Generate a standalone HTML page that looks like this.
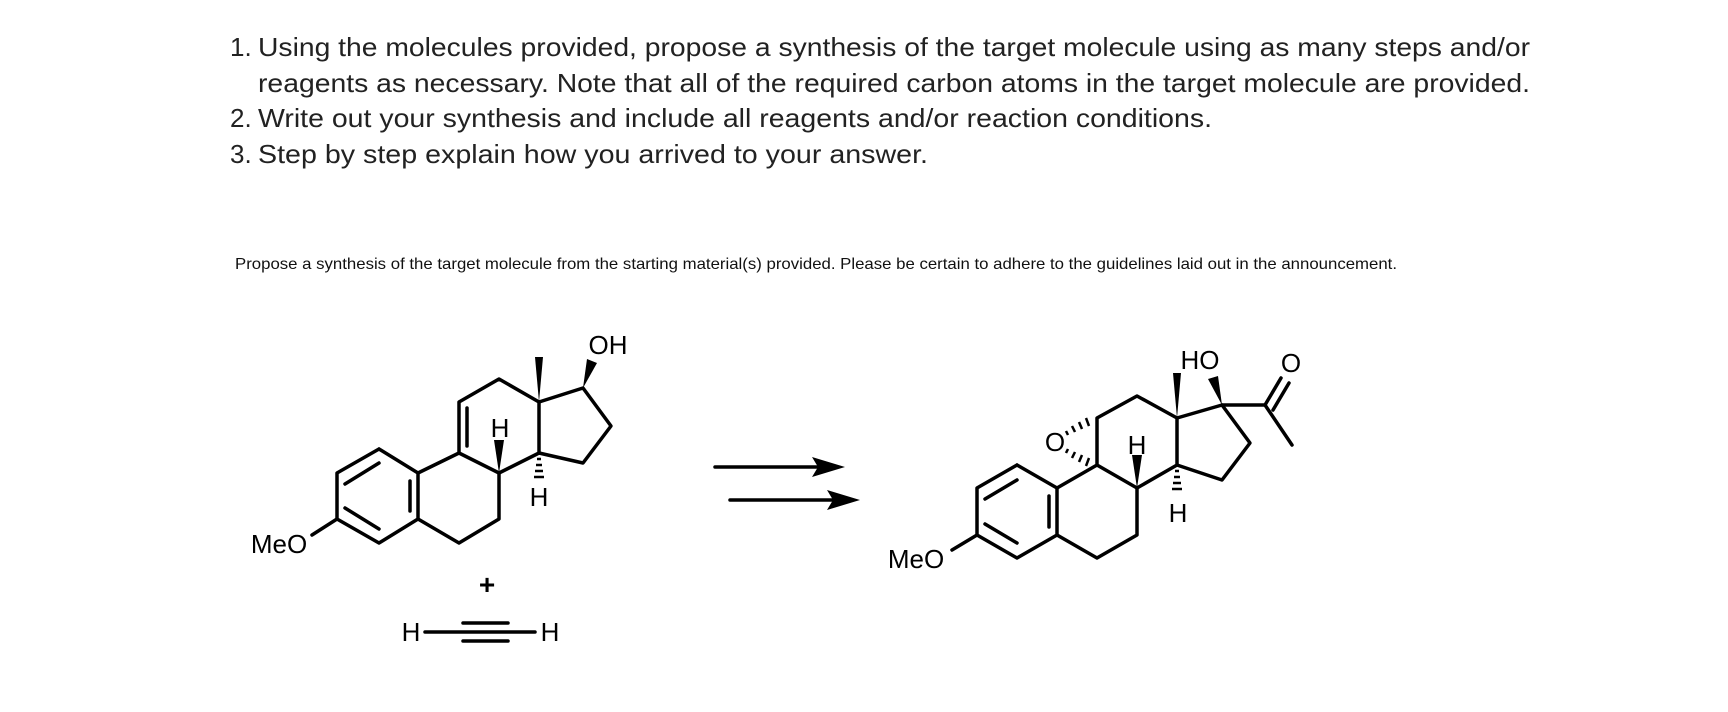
<!DOCTYPE html>
<html><head><meta charset="utf-8"><style>
html,body{margin:0;padding:0;background:#fff;}
svg{display:block}
</style></head><body>
<svg width="1728" height="712" viewBox="0 0 1728 712" xmlns="http://www.w3.org/2000/svg">
<g font-family="Liberation Sans, sans-serif" fill="#222">
<text x="230" y="56" font-size="26">1.</text>
<text x="258" y="56" font-size="26" textLength="1272" lengthAdjust="spacingAndGlyphs">Using the molecules provided, propose a synthesis of the target molecule using as many steps and/or</text>
<text x="258" y="92" font-size="26" textLength="1272" lengthAdjust="spacingAndGlyphs">reagents as necessary. Note that all of the required carbon atoms in the target molecule are provided.</text>
<text x="230" y="127" font-size="26">2.</text>
<text x="258" y="127" font-size="26" textLength="954" lengthAdjust="spacingAndGlyphs">Write out your synthesis and include all reagents and/or reaction conditions.</text>
<text x="230" y="163" font-size="26">3.</text>
<text x="258" y="163" font-size="26" textLength="670" lengthAdjust="spacingAndGlyphs">Step by step explain how you arrived to your answer.</text>
<text x="235" y="269" font-size="16" fill="#111" textLength="1162" lengthAdjust="spacingAndGlyphs">Propose a synthesis of the target molecule from the starting material(s) provided. Please be certain to adhere to the guidelines laid out in the announcement.</text>
</g>
<g stroke="#000" stroke-width="3.5" fill="none" stroke-linejoin="round" stroke-linecap="round">
<polyline points="379,449 337,473 337,519 379,543 418,519 418,473 379,449"/>
<line x1="345" y1="484" x2="379" y2="463"/>
<line x1="410" y1="481" x2="410" y2="511"/>
<line x1="345" y1="508" x2="379" y2="529"/>
<line x1="337" y1="519" x2="312" y2="535"/>
<polyline points="418,473 459,453 459,402 499,379 539,402 539,453 499,473 459,453"/>
<polyline points="418,519 459,543 499,519 499,473"/>
<line x1="467" y1="408" x2="467" y2="446"/>
<polyline points="539,402 583,388 611,426 583,463 539,453"/>
<line x1="425" y1="632" x2="535" y2="632"/>
<line x1="463" y1="623" x2="508" y2="623"/>
<line x1="463" y1="641" x2="508" y2="641"/>
<polyline points="1017,465 977,488 977,535 1017,558 1057,535 1057,488 1017,465"/>
<line x1="985" y1="499" x2="1017" y2="480"/>
<line x1="1049" y1="496" x2="1049" y2="527"/>
<line x1="985" y1="524" x2="1017" y2="543"/>
<line x1="977" y1="535" x2="952" y2="550"/>
<polyline points="1057,488 1097,465 1097,418 1137,396 1177,418 1177,465 1137,488 1097,465"/>
<polyline points="1057,535 1097,558 1137,535 1137,488"/>
<polyline points="1177,418 1222,405 1250,443 1222,480 1177,465"/>
<line x1="1222" y1="405" x2="1265" y2="405"/>
<line x1="1265" y1="405" x2="1292" y2="445"/>
<line x1="1265" y1="405" x2="1281" y2="378"/>
<line x1="1273" y1="410" x2="1289" y2="383"/>
<line x1="715" y1="467" x2="820" y2="467"/>
<line x1="730" y1="500" x2="835" y2="500"/>
</g>
<g fill="#000">
<polygon points="845,467 812,457 818,467 812,477"/>
<polygon points="860,500 827,490 833,500 827,510"/>
<polygon points="539,402 535,357 543,357"/>
<polygon points="583,388 587,359 597,363"/>
<polygon points="499,473 494,440 504,440"/>
<polygon points="1177,418 1173,373 1181,373"/>
<polygon points="1222,405 1208,379 1218,376"/>
<polygon points="1137,488 1132,455 1142,455"/>
</g>
<g stroke="#000" stroke-width="2.5">
<line x1="537" y1="459" x2="541" y2="459"/>
<line x1="536" y1="465" x2="542" y2="465"/>
<line x1="535" y1="471" x2="543" y2="471"/>
<line x1="534" y1="477" x2="544" y2="477"/>
<line x1="1175" y1="471" x2="1179" y2="471"/>
<line x1="1174" y1="477" x2="1180" y2="477"/>
<line x1="1173" y1="483" x2="1181" y2="483"/>
<line x1="1172" y1="489" x2="1182" y2="489"/>
<line x1="1068" y1="435" x2="1066" y2="431"/>
<line x1="1075" y1="432" x2="1072" y2="426"/>
<line x1="1082" y1="429" x2="1079" y2="422"/>
<line x1="1089" y1="426" x2="1086" y2="418"/>
<line x1="1068" y1="449" x2="1066" y2="453"/>
<line x1="1075" y1="452" x2="1072" y2="458"/>
<line x1="1082" y1="455" x2="1079" y2="462"/>
<line x1="1089" y1="458" x2="1086" y2="466"/>
</g>
<g font-family="Liberation Sans, sans-serif" fill="#000" font-size="26" text-anchor="middle">
<text x="279" y="553">MeO</text>
<text x="608" y="354">OH</text>
<text x="500" y="437">H</text>
<text x="539" y="506">H</text>
<text x="487" y="594" font-size="28" font-weight="bold">+</text>
<text x="411" y="641">H</text>
<text x="550" y="641">H</text>
<text x="916" y="568">MeO</text>
<text x="1200" y="369">HO</text>
<text x="1291" y="372">O</text>
<text x="1055" y="451">O</text>
<text x="1137" y="454">H</text>
<text x="1178" y="522">H</text>
</g>
</svg>
</body></html>
